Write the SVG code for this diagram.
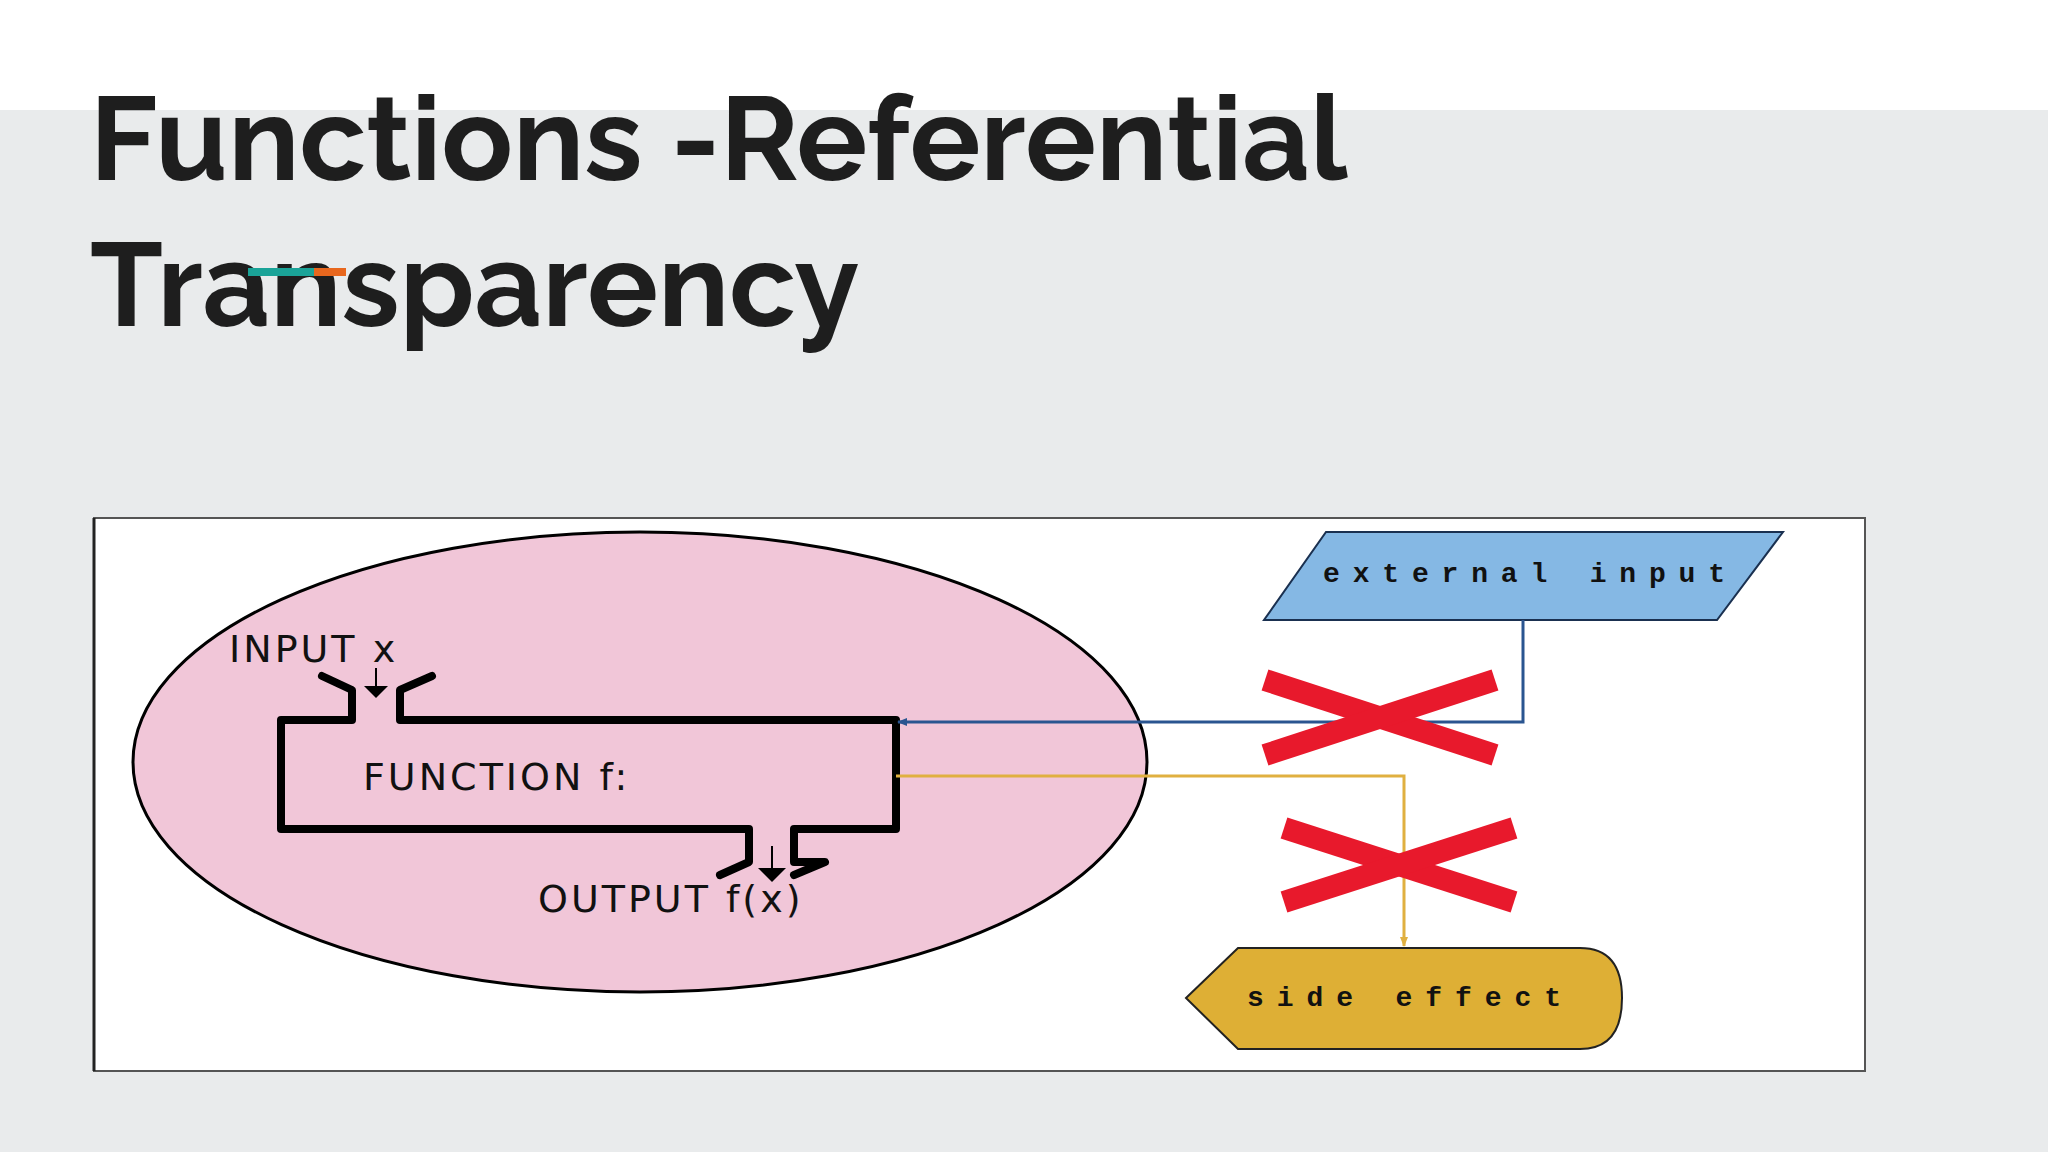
<svg xmlns="http://www.w3.org/2000/svg" width="2048" height="1152" viewBox="0 0 2048 1152">
<style>
.title{font-family:Raleway,"Lato","Liberation Sans",sans-serif;font-weight:700;font-size:118px;fill:#1e1e1e}
.lbl{font-family:"DejaVu Sans","Liberation Sans",sans-serif;font-size:38px;fill:#111;letter-spacing:3px}
.mono{font-family:"Liberation Mono","DejaVu Sans Mono",monospace;font-weight:700;font-size:28px;fill:#111}
.x{stroke:#e8192c;stroke-width:22;stroke-linecap:butt}
</style>
<defs>
<marker id="ab" markerWidth="10" markerHeight="8" refX="9" refY="4" orient="auto" markerUnits="userSpaceOnUse" viewBox="0 0 10 8"><path d="M0,0 L10,4 L0,8z" fill="#2a5590"/></marker>
<marker id="ao" markerWidth="10" markerHeight="8" refX="9" refY="4" orient="auto" markerUnits="userSpaceOnUse" viewBox="0 0 10 8"><path d="M0,0 L10,4 L0,8z" fill="#e0b040"/></marker>
</defs>
<rect width="2048" height="1152" fill="#e9ebec"/>
<rect width="2048" height="110" fill="#ffffff"/>
<text class="title" x="90" y="180">Functions -Referential</text>
<text class="title" x="90" y="326">Transparency</text>
<rect x="248" y="268" width="66" height="8" fill="#1aa398"/>
<rect x="314" y="268" width="32" height="8" fill="#e8671e"/>
<rect x="94" y="518" width="1771" height="553" fill="#ffffff" stroke="#555" stroke-width="2"/>
<line x1="94" y1="518" x2="94" y2="1071" stroke="#222" stroke-width="3"/>
<g id="function">
<ellipse cx="640" cy="762" rx="507" ry="230" fill="#f1c6d8" stroke="#000" stroke-width="3"/>
<path d="M352,720 L281,720 L281,829 L749,829 L749,862 L720,875 M794,875 L825,862 L794,862 M794,862 L794,829 L896,829 L896,720 L400,720 L400,690 L432,676 M322,676 L352,690 L352,720" fill="none" stroke="#000" stroke-width="8" stroke-linejoin="round" stroke-linecap="round"/>
<path d="M794,875 L825,862" stroke="none"/>
<line x1="376" y1="668" x2="376" y2="688" stroke="#000" stroke-width="2"/>
<path d="M364,686 L388,686 L376,698z" fill="#000"/>
<line x1="772" y1="846" x2="772" y2="870" stroke="#000" stroke-width="2"/>
<path d="M758,868 L786,868 L772,882z" fill="#000"/>
<text class="lbl" x="229" y="662">INPUT x</text>
<text class="lbl" x="363" y="790">FUNCTION f:</text>
<text class="lbl" x="538" y="912">OUTPUT f(x)</text>
</g>
<g id="external-input">
<polygon points="1326,532 1783,532 1717,620 1264,620" fill="#85b8e4" stroke="#1a3050" stroke-width="2"/>
<text class="mono" x="1524" y="582" text-anchor="middle" textLength="402">external  input</text>
</g>
<g id="side-effect">
<path d="M1186,998 L1238,948 L1580,948 Q1622,948 1622,998 Q1622,1049 1580,1049 L1238,1049 Z" fill="#deaf35" stroke="#222" stroke-width="2"/>
<text class="mono" x="1404" y="1006" text-anchor="middle" textLength="314">side  effect</text>
</g>
<g id="connectors">
<path d="M1523,620 L1523,722 L898,722" fill="none" stroke="#2a5590" stroke-width="3" marker-end="url(#ab)"/>
<path d="M896,776 L1404,776 L1404,946" fill="none" stroke="#e0b040" stroke-width="3" marker-end="url(#ao)"/>
</g>
<g id="crosses">
<line class="x" x1="1265" y1="680" x2="1495" y2="755"/>
<line class="x" x1="1265" y1="755" x2="1495" y2="680"/>
<line class="x" x1="1284" y1="828" x2="1514" y2="902"/>
<line class="x" x1="1284" y1="902" x2="1514" y2="828"/>
</g>
</svg>
